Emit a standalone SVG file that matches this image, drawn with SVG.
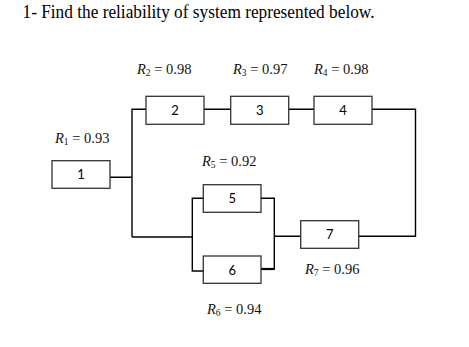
<svg xmlns="http://www.w3.org/2000/svg" width="469" height="347" viewBox="0 0 469 347">
<style>
.box{fill:#fff;stroke:#333;stroke-width:1.3}
.num{font-family:Lato,"Liberation Sans",sans-serif;font-size:13px;fill:#000;text-anchor:middle}
.lbl{font-family:"Liberation Serif",serif;font-size:14.5px;fill:#111}
.it{font-style:italic}
.sub{font-size:9.5px}
.wire{fill:none;stroke:#000;stroke-width:1.4}
</style>
<rect width="469" height="347" fill="#fff"/>
<text x="22.5" y="17.5" font-family="'Liberation Serif',serif" font-size="18" fill="#000" textLength="352" lengthAdjust="spacingAndGlyphs">1- Find the reliability of system represented below.</text>
<g id="connectors">
<path class="wire" d="M110,177.3H132M132,237V109.3H146M204,109.3H230.7M289,109.3H314M372,109.3H415.5V236.3H358.7"/>
<path class="wire" d="M132,237H192.3M203.3,198.3H192.3V271H203.3M261,198.3H274.3V269H261M274.3,236.3H300.7"/>
<path d="M261,269H274.3" stroke="#000" stroke-width="2.2"/>
</g>
<g id="node1"><rect class="box" x="52" y="160.7" width="58" height="27.6"/><text class="num" x="81" y="179">1</text></g>
<g id="node2"><rect class="box" x="146" y="96.3" width="58" height="28"/><text class="num" x="175" y="115">2</text></g>
<g id="node3"><rect class="box" x="230.7" y="96.3" width="58" height="28"/><text class="num" x="259.7" y="115">3</text></g>
<g id="node4"><rect class="box" x="314" y="96.3" width="58" height="28"/><text class="num" x="343" y="115">4</text></g>
<g id="node5"><rect class="box" x="203.3" y="184.7" width="57.7" height="27.6"/><text class="num" x="232.2" y="203">5</text></g>
<g id="node6"><rect class="box" x="203.3" y="256" width="57.7" height="27.3"/><text class="num" x="232.2" y="274.5">6</text></g>
<g id="node7"><rect class="box" x="300.7" y="220.7" width="58" height="27.6"/><text class="num" x="329.7" y="239">7</text></g>
<g id="labels">
<text class="lbl" x="137" y="74"><tspan class="it">R</tspan><tspan class="sub" dy="2">2</tspan><tspan dy="-2"> = 0.98</tspan></text>
<text class="lbl" x="233" y="74"><tspan class="it">R</tspan><tspan class="sub" dy="2">3</tspan><tspan dy="-2"> = 0.97</tspan></text>
<text class="lbl" x="314" y="74"><tspan class="it">R</tspan><tspan class="sub" dy="2">4</tspan><tspan dy="-2"> = 0.98</tspan></text>
<text class="lbl" x="55" y="143"><tspan class="it">R</tspan><tspan class="sub" dy="2">1</tspan><tspan dy="-2"> = 0.93</tspan></text>
<text class="lbl" x="202" y="166"><tspan class="it">R</tspan><tspan class="sub" dy="2">5</tspan><tspan dy="-2"> = 0.92</tspan></text>
<text class="lbl" x="305" y="274"><tspan class="it">R</tspan><tspan class="sub" dy="2">7</tspan><tspan dy="-2"> = 0.96</tspan></text>
<text class="lbl" x="207" y="314"><tspan class="it">R</tspan><tspan class="sub" dy="2">6</tspan><tspan dy="-2"> = 0.94</tspan></text>
</g>
</svg>
